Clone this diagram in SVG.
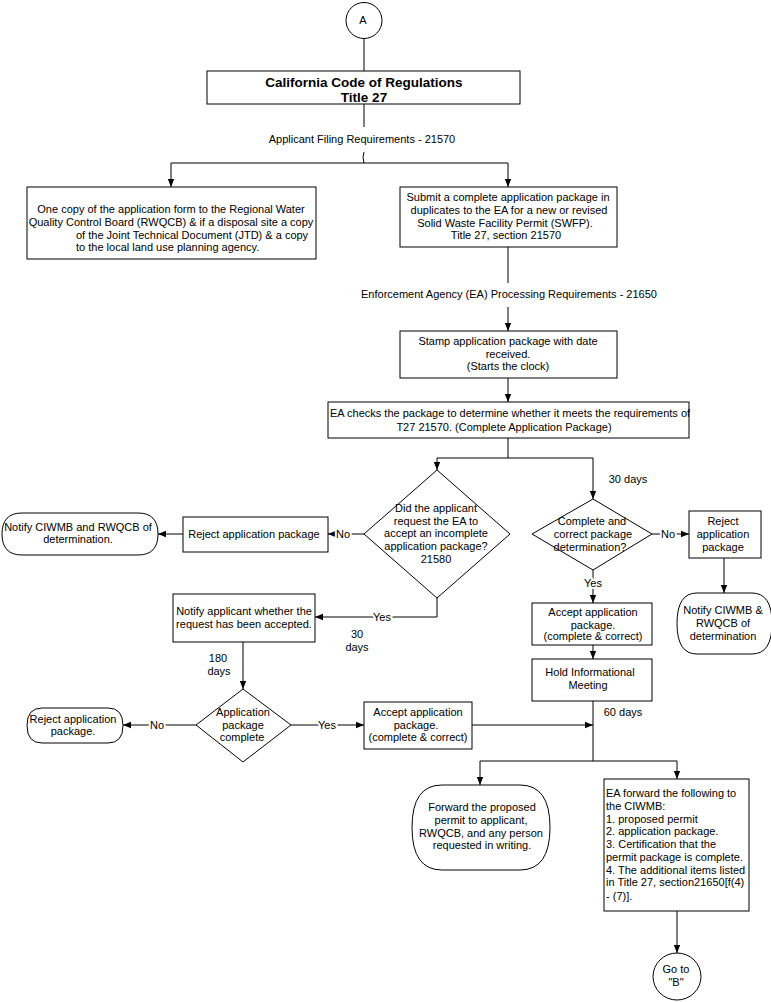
<svg xmlns="http://www.w3.org/2000/svg" width="771" height="1002" viewBox="0 0 771 1002">
<style>
text{font-family:"Liberation Sans",Arial,sans-serif;font-size:11px;fill:#000}
.c{text-anchor:middle}
.t{font-size:13.5px;font-weight:bold}
.n{fill:#fff;stroke:#000;stroke-width:1}
.e{fill:none;stroke:#000;stroke-width:1}
.lb{paint-order:stroke;stroke:#fff;stroke-width:4px;stroke-linejoin:round}
</style>
<defs>
<marker id="ar" viewBox="0 0 8 8" refX="8" refY="4" markerWidth="8" markerHeight="8" markerUnits="userSpaceOnUse" orient="auto">
<path d="M0,0.8 L8,4 L0,7.2 Z" fill="#000"/>
</marker>
</defs>
<rect width="771" height="1002" fill="#fff"/>

<g id="connectors">
<line class="e" x1="364" y1="38" x2="364" y2="71"/>
<line class="e" x1="364" y1="104" x2="364" y2="127"/>
<path class="e" d="M364,152 Q362,157 364,163"/>
<path class="e" d="M171,163 H508"/>
<path class="e" d="M171,163 V187" marker-end="url(#ar)"/>
<path class="e" d="M508,163 V187" marker-end="url(#ar)"/>
<line class="e" x1="508" y1="247" x2="508" y2="283"/>
<path class="e" d="M508,307 V331" marker-end="url(#ar)"/>
<path class="e" d="M508,378 V402" marker-end="url(#ar)"/>
<path class="e" d="M508,438 V458 M437,458 H593"/>
<path class="e" d="M437,458 V470" marker-end="url(#ar)"/>
<path class="e" d="M593,458 V499" marker-end="url(#ar)"/>
<path class="e" d="M364,534 H328" marker-end="url(#ar)"/>
<path class="e" d="M183,534 H158" marker-end="url(#ar)"/>
<path class="e" d="M437,598 V617 H315" marker-end="url(#ar)"/>
<path class="e" d="M243,642 V689" marker-end="url(#ar)"/>
<path class="e" d="M196,725 H123" marker-end="url(#ar)"/>
<path class="e" d="M291,725 H364" marker-end="url(#ar)"/>
<path class="e" d="M472,725 H593" marker-end="url(#ar)"/>
<path class="e" d="M652,534 H689" marker-end="url(#ar)"/>
<path class="e" d="M724,558 V593" marker-end="url(#ar)"/>
<path class="e" d="M593,570 V603" marker-end="url(#ar)"/>
<path class="e" d="M593,645 V659" marker-end="url(#ar)"/>
<path class="e" d="M593,701 V761 M480,761 H677"/>
<path class="e" d="M480,761 V785" marker-end="url(#ar)"/>
<path class="e" d="M677,761 V779" marker-end="url(#ar)"/>
<path class="e" d="M677,911 V953" marker-end="url(#ar)"/>
<text class="c" x="362" y="143">Applicant Filing Requirements - 21570</text>
<text class="c" x="509" y="298">Enforcement Agency (EA) Processing Requirements - 21650</text>
<text class="c" x="628" y="483">30 days</text>
<text class="c lb" x="343" y="538">No</text>
<text class="c lb" x="382" y="621">Yes</text>
<text class="c" x="357" y="638">30</text>
<text class="c" x="357" y="651">days</text>
<text class="c" x="218" y="662">180</text>
<text class="c" x="219" y="675">days</text>
<text class="c lb" x="157" y="729">No</text>
<text class="c lb" x="327" y="729">Yes</text>
<text class="c lb" x="668" y="538">No</text>
<text class="c lb" x="593" y="587">Yes</text>
<text class="c" x="623" y="716">60 days</text>
</g>

<g id="startA">
<ellipse class="n" cx="364" cy="20.5" rx="18" ry="18"/>
<text class="c" x="363" y="24">A</text>
</g>

<g id="title">
<rect class="n" x="207" y="71" width="313" height="33"/>
<text class="c t" x="364" y="87">California Code of Regulations</text>
<text class="c t" x="364" y="102">Title 27</text>
</g>

<g id="copyForm">
<rect class="n" x="27" y="187" width="289" height="72"/>
<text class="c" x="171" y="213">One copy of the application form to the Regional Water</text>
<text class="c" x="171" y="226">Quality Control Board (RWQCB) &amp; if a disposal site a copy</text>
<text x="76" y="239">of the Joint Technical Document (JTD) &amp; a copy</text>
<text x="76" y="251">to the local land use planning agency.</text>
</g>

<g id="submit">
<rect class="n" x="400" y="187" width="217" height="60"/>
<text class="c" x="508" y="201">Submit a complete application package in</text>
<text class="c" x="509" y="214">duplicates to the EA for a new or revised</text>
<text class="c" x="505" y="227">Solid Waste Facility Permit (SWFP).</text>
<text class="c" x="506" y="239">Title 27, section 21570</text>
</g>

<g id="stamp">
<rect class="n" x="400" y="331" width="217" height="47"/>
<text class="c" x="508" y="345">Stamp application package with date</text>
<text class="c" x="508" y="358">received.</text>
<text class="c" x="508" y="370">(Starts the clock)</text>
</g>

<g id="eaChecks">
<rect class="n" x="328" y="402" width="361" height="36"/>
<text class="c" x="510" y="417">EA checks the package to determine whether it meets the requirements of</text>
<text class="c" x="504" y="431">T27 21570. (Complete Application Package)</text>
</g>

<g id="incompleteQ">
<polygon class="n" points="437,470 510,534 437,598 364,534"/>
<text class="c" x="436" y="512">Did the applicant</text>
<text class="c" x="436" y="525">request the EA to</text>
<text class="c" x="436" y="537">accept an incomplete</text>
<text class="c" x="436" y="550">application package?</text>
<text class="c" x="436" y="563">21580</text>
</g>

<g id="rejectLeft">
<rect class="n" x="183" y="517" width="145" height="35"/>
<text class="c" x="254" y="538">Reject application package</text>
</g>

<g id="notifyLeft">
<path class="n" d="M22,513 H138 Q158,513 158,534 Q158,555 138,555 H22 Q2,555 2,534 Q2,513 22,513 Z"/>
<text class="c" x="78" y="531">Notify CIWMB and RWQCB of</text>
<text class="c" x="78" y="543">determination.</text>
</g>

<g id="notifyApplicant">
<rect class="n" x="173" y="594" width="142" height="48"/>
<text class="c" x="244" y="615">Notify applicant whether the</text>
<text class="c" x="244" y="628">request has been accepted.</text>
</g>

<g id="completeQ">
<polygon class="n" points="243,689 291,725 243,762 196,725"/>
<text class="c" x="243" y="716">Application</text>
<text class="c" x="243" y="729">package</text>
<text class="c" x="242" y="741">complete</text>
</g>

<g id="rejectBottom">
<path class="n" d="M42,708 H108 Q123,708 123,725.5 Q123,743 108,743 H42 Q27,743 27,725.5 Q27,708 42,708 Z"/>
<text class="c" x="73" y="723">Reject application</text>
<text class="c" x="73" y="735">package.</text>
</g>

<g id="acceptLeft">
<rect class="n" x="364" y="702" width="108" height="47"/>
<text class="c" x="418" y="716">Accept application</text>
<text class="c" x="416" y="729">package.</text>
<text class="c" x="418" y="741">(complete &amp; correct)</text>
</g>

<g id="correctQ">
<polygon class="n" points="593,499 652,534 593,570 532,534"/>
<text class="c" x="592" y="525">Complete and</text>
<text class="c" x="593" y="538">correct  package</text>
<text class="c" x="590" y="551">determination?</text>
</g>

<g id="rejectRight">
<rect class="n" x="689" y="511" width="72" height="47"/>
<text class="c" x="723" y="525">Reject</text>
<text class="c" x="723" y="538">application</text>
<text class="c" x="723" y="551">package</text>
</g>

<g id="notifyRight">
<path class="n" d="M697,593 H752 Q772,593 772,623.5 Q772,654 752,654 H697 Q677,654 677,623.5 Q677,593 697,593 Z"/>
<text class="c" x="723" y="614">Notify CIWMB &amp;</text>
<text class="c" x="723" y="627">RWQCB of</text>
<text class="c" x="723" y="640">determination</text>
</g>

<g id="acceptRight">
<rect class="n" x="532" y="603" width="120" height="42"/>
<text class="c" x="593" y="616">Accept application</text>
<text class="c" x="593" y="629">package.</text>
<text class="c" x="593" y="640">(complete &amp; correct)</text>
</g>

<g id="holdMeeting">
<rect class="n" x="532" y="659" width="120" height="42"/>
<text class="c" x="590" y="676">Hold Informational</text>
<text class="c" x="588" y="689">Meeting</text>
</g>

<g id="forwardPermit">
<path class="n" d="M442,785 H520 Q550,785 550,827.5 Q550,870 520,870 H442 Q412,870 412,827.5 Q412,785 442,785 Z"/>
<text class="c" x="482" y="811">Forward the proposed</text>
<text class="c" x="481" y="824">permit to applicant,</text>
<text class="c" x="481" y="837">RWQCB, and any person</text>
<text class="c" x="482" y="849">requested in writing.</text>
</g>

<g id="eaForward">
<rect class="n" x="604" y="779" width="145" height="132"/>
<text x="606" y="797">EA forward the following to</text>
<text x="606" y="810">the CIWMB:</text>
<text x="606" y="823">1. proposed permit</text>
<text x="606" y="835">2. application package.</text>
<text x="606" y="848">3. Certification that the</text>
<text x="606" y="861">permit package is complete.</text>
<text x="606" y="874">4. The additional items listed</text>
<text x="606" y="886">in Title 27, section21650[f(4)</text>
<text x="606" y="900">- (7)].</text>
</g>

<g id="gotoB">
<ellipse class="n" cx="677" cy="976.5" rx="24" ry="23.5"/>
<text class="c" x="676" y="973">Go to</text>
<text class="c" x="676" y="986">"B"</text>
</g>
</svg>
